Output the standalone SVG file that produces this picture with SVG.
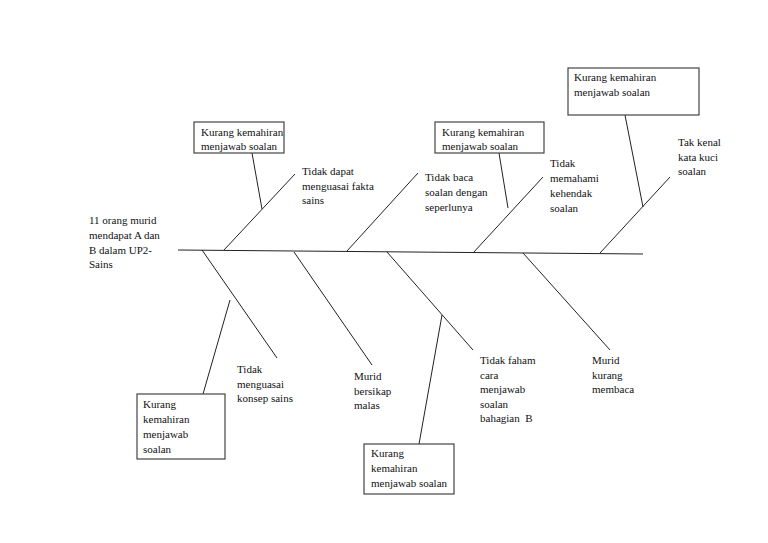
<svg xmlns="http://www.w3.org/2000/svg" width="768" height="543" viewBox="0 0 768 543">
<style>
.t text{font-size:11px;fill:#111}
.l{stroke:#222;stroke-width:1;fill:none}
.b{fill:#fff;stroke:#444;stroke-width:1.2}
</style>
<rect width="768" height="543" fill="#fff"/>
<g id="connectors">
<line class="l" x1="178" y1="250" x2="643" y2="254"/>
<line class="l" x1="224" y1="250" x2="295" y2="174"/>
<line class="l" x1="347" y1="251" x2="418" y2="173"/>
<line class="l" x1="473" y1="253" x2="543" y2="177"/>
<line class="l" x1="600" y1="253" x2="670" y2="177"/>
<line class="l" x1="202" y1="250" x2="277" y2="358"/>
<line class="l" x1="294" y1="252" x2="372" y2="365"/>
<line class="l" x1="387" y1="252" x2="473" y2="350"/>
<line class="l" x1="523" y1="253" x2="610" y2="350"/>
<line class="l" x1="252" y1="153" x2="262" y2="209"/>
<line class="l" x1="499" y1="153" x2="508" y2="208"/>
<line class="l" x1="625" y1="115" x2="643" y2="207"/>
<line class="l" x1="203" y1="394" x2="230" y2="300"/>
<line class="l" x1="419" y1="444" x2="442" y2="315"/>
</g>
<g class="t" font-family="'Liberation Serif', 'DejaVu Serif', serif">
<g id="effect"><text x="89" y="224">11 orang murid</text><text x="89" y="239">mendapat A dan</text><text x="89" y="254">B dalam UP2-</text><text x="89" y="268">Sains</text></g>
<g id="box1"><rect class="b" x="194" y="122" width="90" height="31"/><text x="201" y="136">Kurang kemahiran</text><text x="201" y="150">menjawab soalan</text></g>
<g id="box2"><rect class="b" x="435" y="122" width="109" height="31"/><text x="442" y="136">Kurang kemahiran</text><text x="442" y="150">menjawab soalan</text></g>
<g id="box3"><rect class="b" x="568" y="68" width="131" height="47"/><text x="574" y="81">Kurang kemahiran</text><text x="574" y="96">menjawab soalan</text></g>
<g id="box4"><rect class="b" x="137" y="394" width="88" height="65"/><text x="143" y="408">Kurang</text><text x="143" y="423">kemahiran</text><text x="143" y="438">menjawab</text><text x="143" y="453">soalan</text></g>
<g id="box5"><rect class="b" x="364" y="444" width="90" height="50"/><text x="371" y="457">Kurang</text><text x="371" y="472">kemahiran</text><text x="371" y="487">menjawab soalan</text></g>
<g id="c1"><text x="302" y="175">Tidak dapat</text><text x="302" y="190">menguasai fakta</text><text x="302" y="204">sains</text></g>
<g id="c2"><text x="425" y="181">Tidak baca</text><text x="425" y="196">soalan dengan</text><text x="425" y="211">seperlunya</text></g>
<g id="c3"><text x="550" y="167">Tidak</text><text x="550" y="182">memahami</text><text x="550" y="197">kehendak</text><text x="550" y="212">soalan</text></g>
<g id="c4"><text x="678" y="146">Tak kenal</text><text x="678" y="161">kata kuci</text><text x="678" y="175">soalan</text></g>
<g id="c5"><text x="237" y="373">Tidak</text><text x="237" y="388">menguasai</text><text x="237" y="402">konsep sains</text></g>
<g id="c6"><text x="354" y="380">Murid</text><text x="354" y="395">bersikap</text><text x="354" y="409">malas</text></g>
<g id="c7"><text x="480" y="364">Tidak faham</text><text x="480" y="379">cara</text><text x="480" y="393">menjawab</text><text x="480" y="408">soalan</text><text x="480" y="422" xml:space="preserve">bahagian  B</text></g>
<g id="c8"><text x="592" y="364">Murid</text><text x="592" y="379">kurang</text><text x="592" y="393">membaca</text></g>
</g>
</svg>
